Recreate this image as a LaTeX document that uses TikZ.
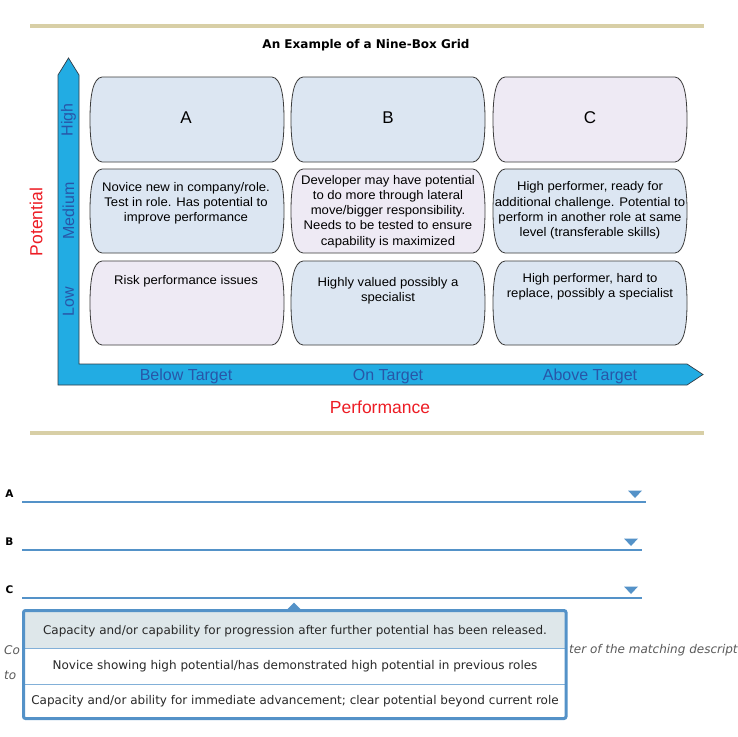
\documentclass[tikz,border=0pt]{standalone}
\usepackage{fontspec}
\setmainfont{Liberation Sans}
\newfontfamily\uifont{DejaVu Sans}
\newfontfamily\boxfont[FakeStretch=1.05]{Liberation Sans}
\definecolor{tanline}{RGB}{216,207,166}
\definecolor{boxblue}{RGB}{220,230,242}
\definecolor{boxlav}{RGB}{238,234,244}
\definecolor{axisblue}{RGB}{34,172,227}
\definecolor{axistext}{RGB}{40,86,168}
\definecolor{labred}{RGB}{237,28,36}
\definecolor{uiblue}{RGB}{84,146,200}
\definecolor{rowgray}{RGB}{222,231,234}
\definecolor{sepblue}{RGB}{130,176,216}
\definecolor{uitext}{RGB}{40,40,40}
\definecolor{bgtext}{RGB}{90,90,90}
\newcommand{\barrel}[5]{%
  \draw[boxline, fill=#5] (#1+12,#2) -- (#3-12,#2)
    .. controls (#3-3,#2+1) and (#3,#2+18) .. (#3,{(#2+#4)/2})
    .. controls (#3,#4-18) and (#3-3,#4-1) .. (#3-12,#4) -- (#1+12,#4)
    .. controls (#1+3,#4-1) and (#1,#4-18) .. (#1,{(#2+#4)/2})
    .. controls (#1,#2+18) and (#1+3,#2+1) .. cycle;}
\tikzset{
  boxline/.style={draw={rgb,255:red,60;green,60;blue,60}, line width=0.8pt},
  boxtext/.style={align=center, font=\boxfont\fontsize{12.5}{15.2}\selectfont, text=black, inner sep=0pt},
  letter/.style={font=\fontsize{17}{20}\selectfont, text=black},
  axislab/.style={font=\fontsize{16}{18}\selectfont, text=axistext, inner sep=0pt},
  redlab/.style={font=\fontsize{17.5}{20}\selectfont, text=labred, inner sep=0pt},
  tanrule/.style={draw=tanline, line width=3.5pt},
  selline/.style={draw=uiblue, line width=2pt},
  seltri/.style={fill=uiblue, draw=none},
  sellab/.style={font=\uifont\bfseries\fontsize{10.5}{12}\selectfont, text=black, inner sep=0pt},
  opttext/.style={font=\uifont\fontsize{12}{14}\selectfont, text=uitext, inner sep=0pt},
  bgtxt/.style={font=\uifont\itshape\fontsize{12}{14}\selectfont, text=bgtext, inner sep=0pt, anchor=west}
}
\begin{document}
\begin{tikzpicture}[x=1pt,y=-1pt]
\useasboundingbox (0,0) rectangle (738,736);
\fill[white] (0,0) rectangle (738,736);
% rules
\draw[tanrule] (30,26) -- (704,26);
\draw[tanrule] (30,433) -- (704,433);
% title
\node[font=\uifont\bfseries\fontsize{12}{14}\selectfont, inner sep=0pt] (title) at (366,45) {An Example of a Nine-Box Grid};
% axis arrow
\draw[fill=axisblue, draw={rgb,255:red,50;green,60;blue,70}, line width=0.7pt]
  (58,385) -- (58,75) -- (68.5,58) -- (79,75) -- (79,364) -- (687,364) -- (703,374.5) -- (687,385) -- cycle;
\node[axislab, rotate=90] (high) at (68.5,120) {High};
\node[axislab, rotate=90] (med) at (68.5,211) {Medium};
\node[axislab, rotate=90] (low) at (68.5,302) {Low};
\node[axislab, anchor=base] (below) at (186,380.5) {Below Target};
\node[axislab, anchor=base] (on) at (388,380.5) {On Target};
\node[axislab, anchor=base] (above) at (590,380.5) {Above Target};
\node[redlab, rotate=90] (pot) at (36,222) {Potential};
\node[redlab] (perf) at (380,407) {Performance};
% boxes
\barrel{90}{77}{284}{162}{boxblue}
\barrel{291}{77}{485}{162}{boxblue}
\barrel{493}{77}{687}{162}{boxlav}
\barrel{90}{169}{284}{253}{boxblue}
\barrel{291}{169}{485}{253}{boxlav}
\barrel{493}{169}{687}{253}{boxblue}
\barrel{90}{261}{284}{345}{boxlav}
\barrel{291}{261}{485}{345}{boxblue}
\barrel{493}{261}{687}{345}{boxblue}
\node[letter] (la) at (186,118) {A};
\node[letter] (lb) at (388,118) {B};
\node[letter] (lc) at (590,118) {C};
\node[boxtext] (t21) at (186,203.5) {Novice new in company/role.\\Test in role. Has potential to\\improve performance};
\node[boxtext] (t22) at (388,211.5) {Developer may have potential\\to do more through lateral\\move/bigger responsibility.\\Needs to be tested to ensure\\capability is maximized};
\node[boxtext] (t23) at (590,210.5) {High performer, ready for\\additional challenge. Potential to\\perform in another role at same\\level (transferable skills)};
\node[boxtext] (t31) at (186,281.5) {Risk performance issues};
\node[boxtext] (t32) at (388,290.5) {Highly valued possibly a\\specialist};
\node[boxtext] (t33) at (590,286.5) {High performer, hard to\\replace, possibly a specialist};
% selectors
\node[sellab] (sa) at (9.5,494) {A};
\node[sellab] (sb) at (9.5,542) {B};
\node[sellab] (sc) at (9.5,590) {C};
\coordinate (a0) at (22,502); \coordinate (a1) at (646,502);
\coordinate (b0) at (22,550); \coordinate (b1) at (642,550);
\coordinate (c0) at (22,598); \coordinate (c1) at (642,598);
\draw[selline] (a0) -- (a1);
\draw[selline] (b0) -- (b1);
\draw[selline] (c0) -- (c1);
\fill[seltri] (628,490.5) -- (642,490.5) -- (635,498) -- cycle;
\fill[seltri] (624,538.5) -- (638,538.5) -- (631,546) -- cycle;
\fill[seltri] (624,586.5) -- (638,586.5) -- (631,594) -- cycle;
% background text
\node[bgtxt] (bg1) at (4,650) {Co};
\node[bgtxt] (bg2) at (4,675) {to};
\node[bgtxt] (bg3) at (569,650) {ter of the matching descript};
% popup
\fill[white] (23.5,610.5) rectangle (566,718.5);
\fill[rowgray] (25,612) rectangle (564.5,648);
\draw[sepblue, line width=0.8pt] (25,648) -- (564.5,648);
\draw[sepblue, line width=0.8pt] (25,684) -- (564.5,684);
\draw[draw=uiblue, line width=3pt, rounded corners=2pt] (23.5,610.5) rectangle (566,718.5);
\fill[seltri] (286.5,610) -- (294,602.5) -- (301.5,610) -- cycle;
\node[opttext] (o1) at (295,631) {Capacity and/or capability for progression after further potential has been released.};
\node[opttext] (o2) at (295,666) {Novice showing high potential/has demonstrated high potential in previous roles};
\node[opttext] (o3) at (295,701) {Capacity and/or ability for immediate advancement; clear potential beyond current role};
\end{tikzpicture}
\end{document}
